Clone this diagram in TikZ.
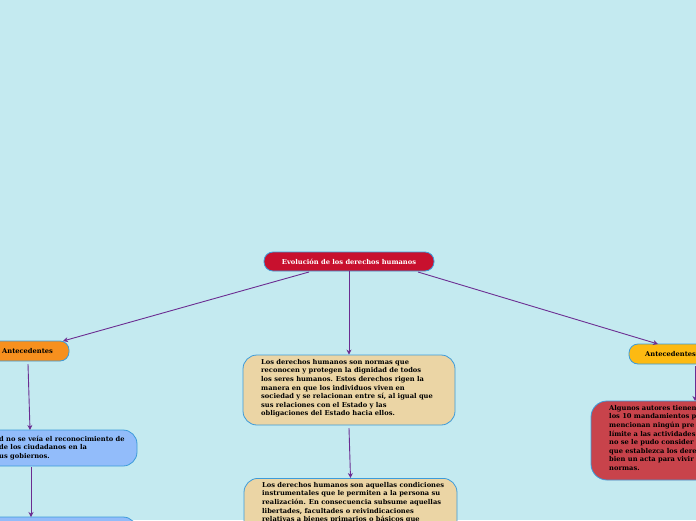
\documentclass[tikz,border=0pt]{standalone}
\usepackage{fontspec}
\setmainfont{DejaVu Serif}
\usetikzlibrary{arrows.meta}
\begin{document}
\begin{tikzpicture}[x=1pt,y=-1pt,
 tx/.style={font=\fontsize{6.7}{8.6}\selectfont\bfseries},
 box/.style={draw=bl,line width=0.8pt,rounded corners=#1,inner sep=0pt,tx},
 box/.default=9pt,
 arr/.style={draw=pur,line width=0.9pt,-{Stealth[length=5pt,width=5pt]}}]
\definecolor{bg}{HTML}{C4EAF0}
\definecolor{bl}{HTML}{3C9BDA}
\definecolor{pur}{HTML}{6B2C91}
\definecolor{crim}{HTML}{C8102E}
\definecolor{ora}{HTML}{F7901E}
\definecolor{yel}{HTML}{FDBA12}
\definecolor{tan}{HTML}{EBD5A5}
\definecolor{lb}{HTML}{92BCFA}
\definecolor{red}{HTML}{C8434B}
\useasboundingbox (0,0) rectangle (696,520);
\clip (0,0) rectangle (696,520);
\fill[bg] (0,0) rectangle (696,520);
\node[box,fill=crim,text=white,minimum width=170pt,minimum height=19pt] (t) at (349,261.5) {Evolución de los derechos humanos};
\node[box,fill=ora,minimum width=100pt,minimum height=20pt] (a1) at (19,351) {};
\node[tx,anchor=west,inner sep=0pt] (a1t) at (2,351) {Antecedentes};
\node[box=14pt,fill=tan,minimum width=212pt,minimum height=70pt] (c1) at (349,390) {};
\node[tx,align=left,anchor=north west,inner sep=0pt] (c1t) at (261,359) {Los derechos humanos son normas que\\reconocen y protegen la dignidad de todos\\los seres humanos. Estos derechos rigen la\\manera en que los individuos viven en\\sociedad y se relacionan entre sí, al igual que\\sus relaciones con el Estado y las\\obligaciones del Estado hacia ellos.};
\node[box,fill=yel,minimum width=110pt,minimum height=20pt] (a2) at (684,354) {};
\node[tx,anchor=west,inner sep=0pt] (a2t) at (645,354) {Antecedentes de los derechos};
\node[box=14pt,fill=lb,minimum width=200pt,minimum height=36pt] (b1) at (37,448) {};
\node[tx,align=left,anchor=west,inner sep=0pt] (b1txt) at (-1,448) {d no se veía el reconocimiento de\\ de los ciudadanos en la\\us gobiernos.};
\coordinate (b1t) at (30,430);
\coordinate (b1b) at (31,467);
\node[box=14pt,fill=lb,minimum width=200pt,minimum height=36pt] (b2) at (37,535) {};
\coordinate (b2t) at (31,517);
\node[box=14pt,fill=tan,minimum width=213pt,minimum height=80pt,anchor=north] (c2) at (350.5,478) {};
\node[tx,align=left,anchor=north west,inner sep=0pt] (c2t) at (262,482) {Los derechos humanos son aquellas condiciones\\instrumentales que le permiten a la persona su\\realización. En consecuencia subsume aquellas\\libertades, facultades o reivindicaciones\\relativas a bienes primarios o básicos que};
\node[box=16pt,fill=red,minimum width=150pt,minimum height=79pt] (r) at (666,440.5) {};
\node[tx,align=left,anchor=north west,inner sep=0pt] (rtxt) at (609,405) {Algunos autores tienen\\los 10 mandamientos p\\mencionan ningún pre\\límite a las actividades\\no se le pudo consider\\que establezca los dere\\bien un acta para vivir\\normas.};
\coordinate (c1b) at (349,428);
\draw[arr] (309,272) -- (63,341);
\draw[arr] (t.south) -- (c1.north);
\draw[arr] (418,272) -- (658,344);
\draw[arr] (28,364) -- (b1t);
\draw[arr] (b1b) -- (b2t);
\draw[arr] (c1b) -- (c2.north);
\draw[arr] (695,366) -- (695,401);
\end{tikzpicture}
\end{document}
